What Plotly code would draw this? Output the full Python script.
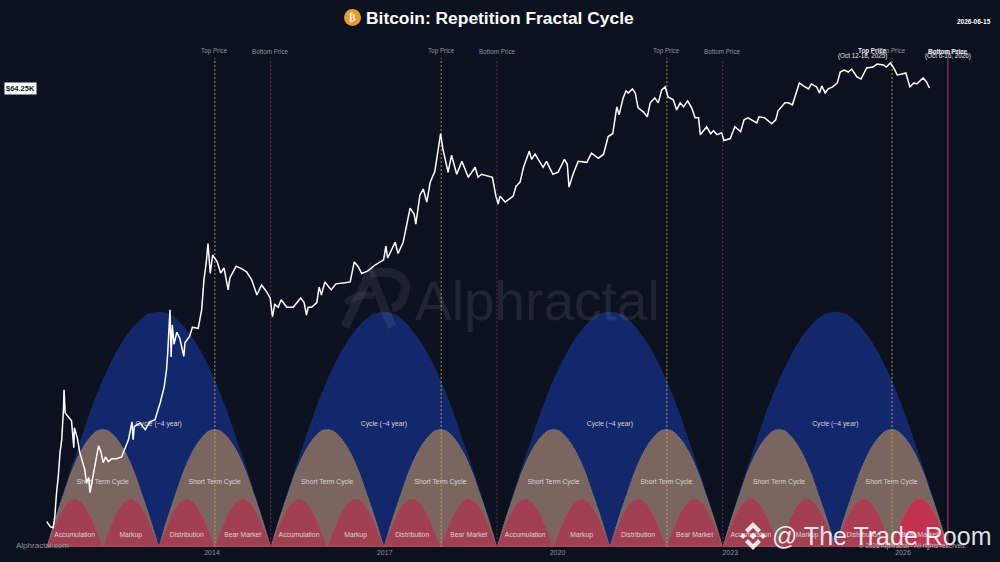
import plotly.graph_objects as go

# ---------- data ----------
YEARS = [2011.13,2011.19,2011.24,2011.27,2011.30,2011.33,2011.36,2011.39,2011.42,2011.43,2011.45,2011.50,2011.56,2011.60,2011.61,2011.66,2011.70,2011.74,2011.79,2011.82,2011.86,2011.88,2011.93,2011.97,
2012.03,2012.07,2012.11,2012.15,2012.20,2012.26,2012.34,2012.43,2012.49,2012.55,2012.61,2012.63,2012.65,2012.75,2012.84,2012.92,
2013.01,2013.10,2013.17,2013.21,2013.23,2013.27,2013.29,2013.31,2013.34,2013.39,2013.44,2013.51,2013.53,2013.61,2013.66,2013.76,2013.82,2013.86,2013.90,2013.93,2013.97,
2014.01,2014.09,2014.15,2014.21,2014.28,2014.31,2014.42,2014.52,2014.60,2014.69,2014.78,2014.86,2014.95,
2015.01,2015.05,2015.09,2015.15,2015.20,2015.30,2015.41,2015.54,2015.60,2015.64,2015.67,2015.73,2015.82,2015.86,2015.90,2015.96,
2016.07,2016.15,2016.31,2016.40,2016.47,2016.54,2016.60,2016.71,2016.83,2016.98,
2017.02,2017.05,2017.18,2017.23,2017.32,2017.38,2017.44,2017.51,2017.54,2017.61,2017.67,2017.73,2017.79,2017.87,2017.93,2017.97,
2018.01,2018.10,2018.16,2018.25,2018.34,2018.45,2018.57,2018.62,2018.68,2018.87,2018.93,2018.97,
2019.00,2019.09,2019.23,2019.28,2019.35,2019.41,2019.51,2019.55,2019.61,2019.67,2019.75,2019.81,2019.92,
2020.01,2020.12,2020.17,2020.20,2020.27,2020.36,2020.51,2020.59,2020.71,2020.80,2020.88,2020.96,
2021.03,2021.07,2021.14,2021.19,2021.23,2021.30,2021.35,2021.40,2021.49,2021.56,2021.61,2021.69,2021.75,2021.81,2021.87,2021.92,
2022.01,2022.07,2022.13,2022.19,2022.26,2022.33,2022.39,2022.45,2022.48,2022.59,2022.66,2022.71,2022.77,2022.85,2022.89,
2023.00,2023.08,2023.18,2023.24,2023.31,2023.46,2023.50,2023.60,2023.69,2023.72,2023.79,2023.83,2023.95,
2024.01,2024.08,2024.12,2024.20,2024.27,2024.36,2024.41,2024.50,2024.55,2024.59,2024.65,2024.70,2024.78,2024.86,2024.91,2024.98,
2025.05,2025.11,2025.20,2025.27,2025.37,2025.48,2025.55,2025.66,2025.71,2025.78,2025.84,2025.90,2025.98,
2026.05,2026.12,2026.19,2026.24,2026.35,2026.41,2026.46]
PRICES = [.864,.756,.736,.985,1.82,2.76,5.13,7.2,15.6,26.2,14.4,13.0,11.7,5.85,9.8,7.6,5.27,4.29,3.31,2.37,2.7,1.82,2.76,3.97,
6.15,5.27,3.97,4.6,4.07,4.4,4.4,4.6,5.7,7.2,11.4,7.2,10.1,11.1,9.3,11.4,
12.05,18.7,28.2,43.9,66,207,61,140,85,116,99,62,88,104,132,128,207,449,700,1150,530,
855,715,537,610,347,473,640,598,552,449,304,394,330,
281,173,238,221,268,221,221,281,250,181,221,221,250,373,304,426,
347,405,416,426,715,630,530,566,660,753,
1075,790,1190,890,1190,1800,2880,2470,1900,4020,4700,3360,5630,7460,13900,19700,
13200,7270,11300,6900,9650,6390,8270,6390,6900,6390,3920,3190,
3920,3360,3920,5080,5630,8270,12500,10150,11600,10150,8270,9650,6900,
7270,10150,8930,4950,6900,9650,9400,11900,10400,11600,18300,19700,
39500,32100,49800,59600,56600,62800,56600,38500,34700,30500,43800,49800,43800,61200,66100,51100,
47300,36500,43800,39500,46100,38500,29700,29700,19200,23600,19700,21300,19200,20200,16500,
17400,23600,20800,28200,29700,26100,30500,29700,26100,25500,28200,35600,43800,
43800,41600,51100,73300,67800,62800,71400,66100,56600,67800,56600,62800,66100,73300,97300,102500,
97300,105100,85500,81200,107900,110700,119600,116600,110700,122800,107900,90100,92400,
94800,66100,73300,71400,83400,75200,64250]

CYCLE_BOUNDS = [2011.13, 2015.02, 2018.95, 2022.87, 2026.78]
TOP_YEARS = [2014.05, 2017.98, 2021.90, 2025.81]
BOTTOM_YEARS = [2015.02, 2018.95, 2022.87, 2026.78]
TICK_YEARS = [2014, 2017, 2020, 2023, 2026]
ARC_T = [i / 20 for i in range(21)]
ARC_SHAPE = [0,.16,.31,.45,.59,.71,.81,.89,.95,.99,1,.99,.95,.89,.81,.71,.59,.45,.31,.16,0]
LEVEL_BIG, LEVEL_MID, LEVEL_SMALL = 1.0, 0.5, 0.205
PHASES = ["Accumulation", "Markup", "Distribution", "Bear Market"]
LAST_PRICE_LABEL = "$64.25K"
DATE_LABEL = "2026-06-15"

BG = "#0b111e"
BLUE, MID, RED, RED_HOT = "#13286c", "#7b665f", "#a23f53", "#c23150"
TXT = "#d8d3d0"
FONT = "Liberation Sans"

W, H, BOTTOM = 1000, 562, 547
XR = [2010.318, 2027.685]
def px(x): return x / W
def py(y): return (BOTTOM - y) / BOTTOM

fig = go.Figure()

def arc(a, b, level, color, edge):
    fig.add_trace(go.Scatter(
        x=[a + t * (b - a) for t in ARC_T], y=[s * level for s in ARC_SHAPE],
        mode="lines", fill="toself", fillcolor=color,
        line=dict(color=edge, width=0.7, dash="1px,1.5px", shape="spline", smoothing=0.8),
        hoverinfo="skip", showlegend=False))

for i in range(4):
    a, b = CYCLE_BOUNDS[i], CYCLE_BOUNDS[i + 1]
    m = (a + b) / 2
    arc(a, b, LEVEL_BIG, BLUE, "rgba(90,110,180,0.25)")
    for s, e in ((a, m), (m, b)):
        arc(s, e, LEVEL_MID, MID, "rgba(225,215,205,0.55)")
    q = (b - a) / 4
    for k in range(4):
        col = RED_HOT if (i == 3 and k == 3) else ("#ab3c52" if i == 3 and k == 2 else RED)
        arc(a + k * q, a + (k + 1) * q, LEVEL_SMALL, col, "rgba(225,190,190,0.2)")

# baseline
fig.add_trace(go.Scatter(x=[CYCLE_BOUNDS[0], CYCLE_BOUNDS[-1]], y=[0.004, 0.004], mode="lines",
                         line=dict(color="#b0485c", width=1.2), hoverinfo="skip", showlegend=False))

# vertical markers
VTOP = 2.08
for x in TOP_YEARS:
    fig.add_trace(go.Scatter(x=[x, x], y=[0, VTOP], mode="lines", hoverinfo="skip", showlegend=False,
                             line=dict(color="#c9a15a", width=0.9, dash="2px,2px")))
for j, x in enumerate(BOTTOM_YEARS):
    last = j == len(BOTTOM_YEARS) - 1
    fig.add_trace(go.Scatter(x=[x, x], y=[0, VTOP], mode="lines", hoverinfo="skip", showlegend=False,
                             line=dict(color="#8a2f55" if last else "#7d2f50", width=1.3 if last else 0.9,
                                       dash="solid" if last else "2px,2px")))

# labels inside the arcs
lx, ly, lt = [], [], []
for i in range(4):
    a, b = CYCLE_BOUNDS[i], CYCLE_BOUNDS[i + 1]
    w = b - a
    lx.append(a + w / 2); ly.append(0.523); lt.append("Cycle (~4 year)")
    for f in (0.25, 0.75):
        lx.append(a + w * f); ly.append(0.277); lt.append("Short Term Cycle")
    for k, name in enumerate(PHASES):
        lx.append(a + w * (k + 0.5) / 4); ly.append(0.051); lt.append(name)
fig.add_trace(go.Scatter(x=lx, y=ly, text=lt, mode="text", textposition="middle center",
                         textfont=dict(family=FONT, size=6.8, color=TXT), hoverinfo="skip", showlegend=False))

# price
fig.add_trace(go.Scatter(x=YEARS, y=PRICES, yaxis="y2", mode="lines", hoverinfo="skip", showlegend=False,
                         line=dict(color="#ffffff", width=1.5)))

ann = []
def text(x, y, s, size, color, bold=False, anchor="center", xref="x", bg=None, family=FONT):
    d = dict(x=x, y=py(y), xref=xref, yref="paper", text=f"<b>{s}</b>" if bold else s, showarrow=False,
             xanchor=anchor, yanchor="middle",
             font=dict(family=family, size=size, color=color))
    if bg:
        d.update(bgcolor=bg, borderpad=1)
    ann.append(d)

for x in TOP_YEARS:
    text(x, 51, "Top Price", 6.3, "#8f94a0")
for x in BOTTOM_YEARS:
    text(x, 51, "Bottom Price", 6.3, "#8f94a0")
text(px(889), 51, "Top Price", 6.3, "#e8e8e8", True, "right", "paper")
text(px(889), 56, "(Oct 12-18, 2025)", 6.3, "#e8e8e8", False, "right", "paper")
text(BOTTOM_YEARS[-1], 51, "Bottom Price", 6.3, "#e8e8e8", True)
text(BOTTOM_YEARS[-1], 56, "(Oct 6-16, 2026)", 6.3, "#e8e8e8")

text(px(500.5), 18, "Bitcoin: Repetition Fractal Cycle", 17.4, "#ffffff", True, "center", "paper")
text(px(352.5), 17.5, "₿", 10, "#fff3e0", True, "center", "paper", family="DejaVu Sans")
text(px(974), 22, DATE_LABEL, 6.5, "#ffffff", True, "center", "paper")
text(px(20), 88, LAST_PRICE_LABEL, 7.5, "#111722", True, "center", "paper", bg="#ffffff")
text(px(537), 301, "Alphractal", 55, "rgba(255,255,255,0.085)", False, "center", "paper")
text(px(14), 545, "Alphractal.com", 8, "#8e939c", False, "left", "paper")
text(px(912), 546, "© 2026 Alphractal - All rights reserved.", 6.3, "#b5b5b8", False, "center", "paper")
text(px(881), 536, "@ The Trade Room", 25, "rgba(255,255,255,0.88)", False, "center", "paper")

def path(points):
    return "M " + " L ".join(f"{px(x):.4f},{py(y):.4f}" for x, y in points) + " Z"

shapes = [
    dict(type="circle", xref="paper", yref="paper", x0=px(344), x1=px(361), y0=py(26), y1=py(9),
         fillcolor="#ee962f", line=dict(width=0)),
    # Alphractal mark
    dict(type="path", xref="paper", yref="paper",
         path=f"M {px(345):.4f},{py(327):.4f} L {px(370):.4f},{py(273):.4f} L {px(392):.4f},{py(327):.4f}",
         line=dict(color="rgba(255,255,255,0.075)", width=9)),
    dict(type="path", xref="paper", yref="paper",
         path=f"M {px(370):.4f},{py(273):.4f} Q {px(412):.4f},{py(268):.4f} {px(404):.4f},{py(295):.4f} Q {px(401):.4f},{py(306):.4f} {px(392):.4f},{py(308):.4f}",
         line=dict(color="rgba(255,255,255,0.075)", width=9)),
    dict(type="path", xref="paper", yref="paper",
         path=f"M {px(346):.4f},{py(303):.4f} Q {px(358):.4f},{py(292):.4f} {px(374):.4f},{py(296):.4f}",
         line=dict(color="rgba(255,255,255,0.075)", width=7)),
]
# diamond watermark
dc = (753, 536)
for poly in (
    [(0, -14), (8, -6), (5, -3), (0, -8), (-5, -3), (-8, -6)],
    [(0, 14), (8, 6), (5, 3), (0, 8), (-5, 3), (-8, 6)],
    [(-13, 0), (-10, -3), (-7, 0), (-10, 3)],
    [(13, 0), (10, -3), (7, 0), (10, 3)],
    [(0, -3.5), (3.5, 0), (0, 3.5), (-3.5, 0)],
):
    shapes.append(dict(type="path", xref="paper", yref="paper",
                       path=path([(dc[0] + a, dc[1] + b) for a, b in poly]),
                       fillcolor="rgba(255,255,255,0.88)", line=dict(width=0)))

fig.update_layout(
    width=W, height=H, autosize=False,
    margin=dict(l=0, r=0, t=0, b=H - BOTTOM, pad=0),
    paper_bgcolor=BG, plot_bgcolor=BG, showlegend=False,
    xaxis=dict(range=XR, tickmode="array", tickvals=TICK_YEARS, ticktext=[str(t) for t in TICK_YEARS],
               showgrid=False, zeroline=False, showline=False, ticks="", automargin=False,
               tickfont=dict(family=FONT, size=7, color="#8f94a0")),
    yaxis=dict(range=[0, BOTTOM / 235], visible=False, showgrid=False, zeroline=False, fixedrange=True),
    yaxis2=dict(type="log", range=[-0.349, 5.797], overlaying="y", side="right", visible=False,
                showgrid=False, zeroline=False),
    annotations=ann, shapes=shapes,
)
fig.write_html("out.html", config=dict(displayModeBar=False),
               post_script="document.body.style.margin='0';document.body.style.background='#0b111e';document.body.style.overflow='hidden';")
